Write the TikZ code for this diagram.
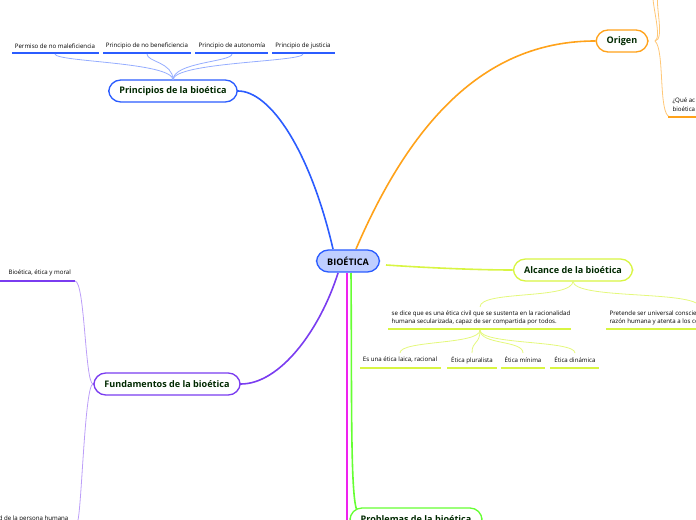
\documentclass[tikz,border=0pt]{standalone}
\usepackage{fontspec}
\setmainfont{Open Sans}
\begin{document}
\begin{tikzpicture}[x=0.75pt,y=-0.75pt,
  main/.style={draw, rounded corners=9pt, line width=1pt, font=\bfseries\fontsize{6.8}{8}\selectfont, text=black!60!green!40!black, inner xsep=8pt, minimum height=16.5pt},
  leaf/.style={font=\fontsize{4.6}{6.5}\selectfont, align=left, inner sep=1pt},
  ul/.style={line width=1.5pt}]
\useasboundingbox (0,0) rectangle (696,520);
\definecolor{colB}{HTML}{2B5CFF}\definecolor{colO}{HTML}{FFA21A}
\definecolor{colY}{HTML}{D8F542}\definecolor{colP}{HTML}{7A3CF0}
\definecolor{colG}{HTML}{66FF33}\definecolor{colM}{HTML}{EE22EE}
\begin{scope}
\clip (0,0) rectangle (696,520);
\draw[colM,line width=1.5pt] (347,273) -- (347,530);
\draw[colG,line width=1.2pt] (351,273) .. controls (352,400) and (350,505) .. (358,512);
\node[main,draw=colB,fill=white] (pr) at (173,91) {Principios de la bioética};
\node[main,draw=colO,fill=white] (or) at (622,41) {Origen};
\node[main,draw=colY,fill=white] (al) at (573,270) {Alcance de la bioética};
\node[main,draw=colP,fill=white] (fu) at (167,384) {Fundamentos de la bioética};
\node[main,draw=colG,fill=white] (pb) at (416,519) {Problemas de la bioética};
\draw[colB,line width=1.2pt] (333,249) .. controls (310,150) and (270,91) .. (pr.east);
\draw[colO,line width=1.2pt] (356,249) .. controls (420,100) and (500,41) .. (or.west);
\draw[colY,line width=1.2pt] (386,265) .. controls (430,268) and (480,270) .. (al.west);
\draw[colP,line width=1.2pt] (338,273) .. controls (320,330) and (280,384) .. (fu.east);
\node[main,draw=colB,fill=colB!30!white,text=black] (root) at (348,261) {BIOÉTICA};
\foreach \n/\x/\a/\b/\t in {p1/55/12/99/Permiso de no maleficiencia,p2/147/103/191/Principio de no beneficiencia,p3/232/195/268/Principio de autonomía,p4/303/272/335/Principio de justicia}{
  \node[leaf] (\n) at (\x,46) {\t};
  \draw[colB,ul] (\a,53) -- (\b,53);
  \draw[colB!50!white,line width=0.6pt] (\x,54) .. controls (\x,62) and (173,62) .. (173,80);
}
\draw[colO!60!white,line width=0.6pt] (655,41) .. controls (665,40) and (655,5) .. (658,-5);
\draw[colO!60!white,line width=0.6pt] (655,41) .. controls (662,38) and (652,5) .. (653,-5);
\draw[colO!60!white,line width=0.6pt] (655,41) .. controls (665,50) and (658,115) .. (670,117);
\node[leaf,anchor=west] (o2) at (671,105) {¿Qué ac\\bioética};
\draw[colO,ul] (668,117) -- (700,117);
\node[leaf,anchor=west] (a1) at (390,318) {se dice que es una ética civil que se sustenta en la racionalidad\\humana secularizada, capaz de ser compartida por todos.};
\draw[colY,ul] (388,329) -- (571,329);
\node[leaf,anchor=west] (a2) at (608,318) {Pretende ser universal conscie\\razón humana y atenta a los co};
\draw[colY,ul] (606,329) -- (700,329);
\draw[colY!70!white,line width=0.6pt] (573,281) .. controls (573,300) and (480,290) .. (480,307);
\draw[colY!70!white,line width=0.6pt] (573,281) .. controls (573,300) and (696,290) .. (700,307);
\foreach \n/\x/\a/\b/\t in {s1/400/360/441/{Es una ética laica, racional},s2/472/447/497/Ética pluralista,s3/523/501/545/Ética mínima,s4/575/550/599/Ética dinámica}{
  \node[leaf] (\n) at (\x,360) {\t};
  \draw[colY,ul] (\a,368) -- (\b,368);
  \draw[colY!70!white,line width=0.6pt] (480,330) .. controls (480,345) and (\x,340) .. (\x,353);
}
\node[leaf,anchor=west] (f1) at (7,273) {Bioética, ética y moral};
\draw[colP,ul] (0,281) -- (75,281);
\draw[colP!50!white,line width=0.6pt] (fu.west) .. controls (85,384) and (85,281) .. (75,281);
\draw[colP!50!white,line width=0.6pt] (fu.west) .. controls (85,384) and (82,500) .. (78,520);
\node[leaf,anchor=east] (f2) at (70,519) {dignidad de la persona humana};
\end{scope}
\end{tikzpicture}
\end{document}
